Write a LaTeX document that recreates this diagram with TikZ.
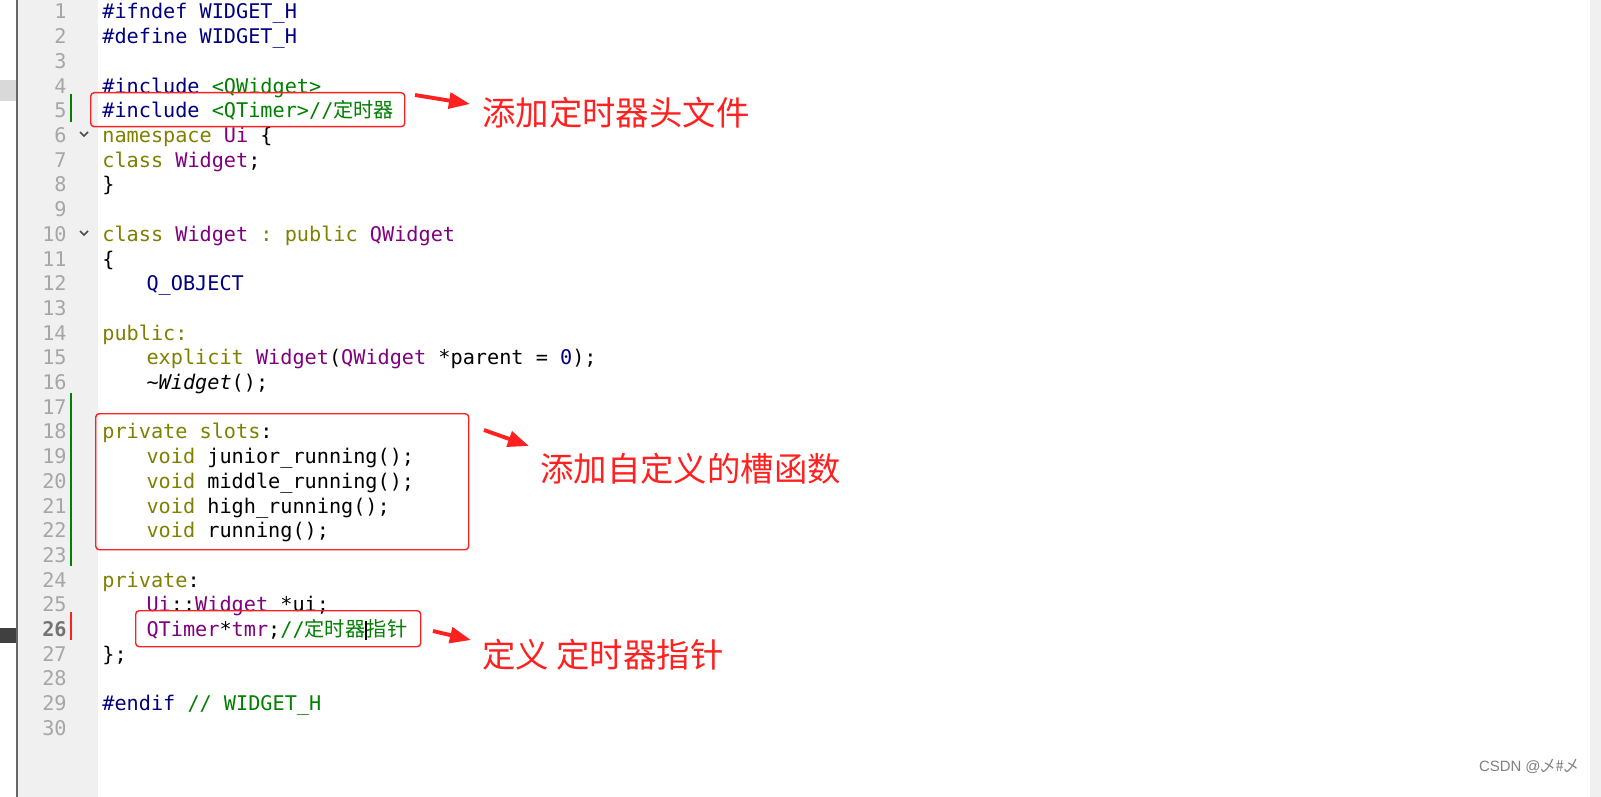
\documentclass[tikz,border=0pt]{standalone}
\usepackage{fontspec}
\setmainfont{Liberation Sans}
\setmonofont{DejaVu Sans Mono}
\newfontfamily\cjk{Noto Sans CJK SC}
\usetikzlibrary{arrows.meta,calc}
\definecolor{kwc}{HTML}{808000}
\definecolor{tyc}{HTML}{800080}
\definecolor{ppc}{HTML}{000080}
\definecolor{cmc}{HTML}{008000}
\definecolor{numc}{HTML}{000080}
\definecolor{gutter}{HTML}{F0F0F0}
\definecolor{redmark}{HTML}{FF2020}
\newcommand{\kw}[1]{\textcolor{kwc}{#1}}
\newcommand{\ty}[1]{\textcolor{tyc}{#1}}
\newcommand{\pp}[1]{\textcolor{ppc}{#1}}
\newcommand{\cm}[1]{\textcolor{cmc}{#1}}
\newcommand{\zh}[1]{{\cjk #1}}
\tikzset{
  code/.style={anchor=base west,inner sep=0pt,yshift=-0.02cm,font=\ttfamily\fontsize{11.5}{12}\selectfont},
  lnum/.style={anchor=base east,inner sep=0pt,yshift=-0.02cm,text=black!35,font=\ttfamily\fontsize{11.5}{12}\selectfont},
  markbox/.style={draw=redmark,rounded corners=2pt,line width=0.8pt},
  note/.style={anchor=west,inner sep=0pt,text=redmark,font=\cjk\fontsize{19}{20}\selectfont},
  notearrow/.style={draw=redmark,line width=2.2pt,-{Triangle[length=12pt,width=9pt]}}
}
\begin{document}
\begin{tikzpicture}[x=0.02cm,y=-0.02cm]
	\useasboundingbox (0,0) rectangle (1601,797);
	\fill[white] (0,0) rectangle (1601,797);
	\fill[gutter] (17,0) rectangle (98,797);
	\fill[gutter] (1590,0) rectangle (1601,797);
	\fill[black!15] (0,80) rectangle (17,101);
	\fill[black!75] (0,628) rectangle (17,643);
	\draw[black!60,line width=0.8pt] (17,0) -- (17,797);
	
	% line numbers
	\foreach \n in {1,...,30}{
		\ifnum\n=26
			\node[lnum,text=black!55,font=\ttfamily\bfseries\fontsize{11.5}{12}\selectfont] (n\n) at (67,{18+24.7*(\n-1)}) {\n};
		\else
			\node[lnum] (n\n) at (67,{18+24.7*(\n-1)}) {\n};
		\fi
	}
	
	% change markers
	\draw[cmc,line width=1.2pt] (71,94) -- (71,122);
	\draw[cmc,line width=1.2pt] (71,393) -- (71,566);
	\draw[redmark,line width=1.2pt] (71,612) -- (71,640);
	\draw[black!70,line width=0.9pt] (80,132) -- (84,136) -- (88,132);
	\draw[black!70,line width=0.9pt] (80,231) -- (84,235) -- (88,231);
	
	% code lines
	\node[code] (l1) at (102,18) {\pp{\#ifndef WIDGET\_H}};
	\node[code] (l2) at (102,42.7) {\pp{\#define WIDGET\_H}};
	\node[code] (l4) at (102,92.1) {\pp{\#include} \cm{<QWidget>}};
	\node[code] (l5) at (102,116.8) {\pp{\#include} \cm{<QTimer>//\zh{定时器}}};
	\node[code] (l6) at (102,141.5) {\kw{namespace} \ty{Ui} \{};
	\node[code] (l7) at (102,166.2) {\kw{class} \ty{Widget};};
	\node[code] (l8) at (102,190.9) {\}};
	\node[code] (l10) at (102,240.3) {\kw{class} \ty{Widget} \kw{:} \kw{public} \ty{QWidget}};
	\node[code] (l11) at (102,265) {\{};
	\node[code] (l12) at (102,289.7) {\hspace*{4ex}\pp{Q\_OBJECT}};
	\node[code] (l14) at (102,339.1) {\kw{public:}};
	\node[code] (l15) at (102,363.8) {\hspace*{4ex}\kw{explicit} \ty{Widget}(\ty{QWidget} *parent = \textcolor{numc}{0});};
	\node[code] (l16) at (102,388.5) {\hspace*{4ex}\textasciitilde\textit{Widget}();};
	\node[code] (l18) at (102,437.9) {\kw{private} \kw{slots}:};
	\node[code] (l19) at (102,462.6) {\hspace*{4ex}\kw{void} junior\_running();};
	\node[code] (l20) at (102,487.3) {\hspace*{4ex}\kw{void} middle\_running();};
	\node[code] (l21) at (102,512) {\hspace*{4ex}\kw{void} high\_running();};
	\node[code] (l22) at (102,536.7) {\hspace*{4ex}\kw{void} running();};
	\node[code] (l24) at (102,586.1) {\kw{private}:};
	\node[code] (l25) at (102,610.8) {\hspace*{4ex}\ty{Ui}::\ty{Widget} *ui;};
	\node[code] (l26) at (102,635.5) {\hspace*{4ex}\ty{QTimer}*\ty{tmr};\cm{//\zh{定时器}}\rule[-2pt]{0.9pt}{11pt}\cm{\zh{指针}}};
	\node[code] (l27) at (102,660.2) {\};};
	\node[code] (l29) at (102,709.6) {\pp{\#endif} \cm{// WIDGET\_H}};
	
	% boxes and notes
	\node[markbox,minimum width=314*0.02cm,minimum height=34*0.02cm,anchor=north west] (b1) at (90,92) {};
	\node[markbox,minimum width=373*0.02cm,minimum height=136*0.02cm,anchor=north west] (b2) at (95,413) {};
	\node[markbox,minimum width=285*0.02cm,minimum height=36*0.02cm,anchor=north west] (b3) at (135,610) {};
	\node[note] (t1) at (482,113) {添加定时器头文件};
	\node[note] (t2) at (540,469) {添加自定义的槽函数};
	\node[note] (t3) at (482,655) {定义 定时器指针};
	\coordinate (a1) at (415,95);
	\coordinate (e1) at (470,104);
	\coordinate (a2) at (484,430);
	\coordinate (e2) at (529,446);
	\coordinate (a3) at (433,631);
	\coordinate (e3) at (471,640);
	\draw[notearrow] (a1) -- (e1);
	\draw[notearrow] (a2) -- (e2);
	\draw[notearrow] (a3) -- (e3);
	
	\node[anchor=east,text=black!50,font=\fontsize{8.5}{10}\selectfont] (wm) at (1585,766) {CSDN @\zh{乄\#乄}};
\end{tikzpicture}
\end{document}
